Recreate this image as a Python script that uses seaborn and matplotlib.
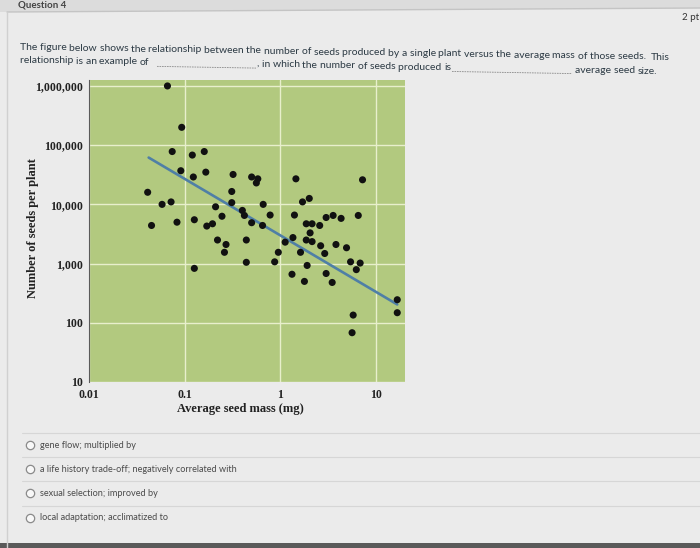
import numpy as np
import pandas as pd
import matplotlib
matplotlib.use("Agg")
import matplotlib.pyplot as plt
from matplotlib.ticker import FixedLocator, NullLocator
import seaborn as sns

# ---------------- data ----------------
seed_mass_mg = [0.066, 0.093, 0.074, 0.12, 0.16, 0.091, 0.123, 0.166, 0.32, 0.50,
                0.58, 0.56, 1.45, 7.2, 0.041, 0.058, 0.072, 0.31, 0.31, 0.21,
                0.40, 0.42, 0.66, 0.78, 1.7, 2.0, 1.4, 0.045, 0.083, 0.126,
                0.17, 0.195, 0.245, 0.50, 0.65, 1.86, 2.14, 2.57, 2.04, 3.0,
                3.55, 4.3, 6.5, 0.22, 0.44, 0.27, 1.12, 1.35, 1.86, 2.14,
                2.63, 3.8, 4.9, 0.44, 0.26, 0.87, 0.95, 1.62, 0.126, 1.32,
                1.9, 1.78, 3.0, 3.47, 2.9, 5.4, 6.8, 6.2, 16.6, 16.6,
                5.75, 5.6]
seeds_per_plant = [1000000, 200000, 78000, 68000, 78000, 37000, 29000, 35000, 32000, 29000,
                   27000, 23000, 27000, 26000, 16000, 10000, 11000, 16500, 10700, 9100,
                   7900, 6500, 10000, 6600, 11000, 12600, 6600, 4400, 5000, 5500,
                   4300, 4700, 6300, 4900, 4400, 4700, 4700, 4400, 3300, 6000,
                   6500, 5800, 6500, 2500, 2500, 2100, 2300, 2750, 2500, 2350,
                   2000, 2100, 1850, 1050, 1550, 1070, 1550, 1550, 830, 660,
                   930, 500, 680, 480, 1480, 1070, 1020, 790, 245, 148,
                   135, 68]
fit_mass_mg = [0.042, 16.6]
fit_seeds = [61700, 204]

x_ticks = [0.01, 0.1, 1, 10]
x_tick_labels = ["0.01", "0.1", "1", "10"]
y_ticks = [10, 100, 1000, 10000, 100000, 1000000]
y_tick_labels = ["10", "100", "1,000", "10,000", "100,000", "1,000,000"]

question_line1 = ("The figure below shows the relationship between the number of seeds produced "
                  "by a single plant versus the average mass of those seeds.  This")
question_line2 = ["relationship is an example of", ", in which the number of seeds produced is",
                  "average seed size."]
options = ["gene flow; multiplied by",
           "a life history trade-off; negatively correlated with",
           "sexual selection; improved by",
           "local adaptation; acclimatized to"]

# ---------------- figure ----------------
sns.set_style("white")
plt.rcParams['font.family'] = ['Lato', 'DejaVu Sans']

W, H = 700, 548
fig = plt.figure(figsize=(7.0, 5.48), dpi=100)
fig.patch.set_facecolor("#ebebeb")

# page overlay in pixel coordinates
pg = fig.add_axes([0, 0, 1, 1], zorder=0)
pg.set_xlim(0, W)
pg.set_ylim(H, 0)
pg.axis("off")
pg.patch.set_alpha(0)

pg.fill_between([0, W], [0, 0], [12, 8], color="#dcdcdc", lw=0)
pg.plot([7, W], [12, 8], color="#c4c4c4", lw=1)
pg.plot([7, 7], [12, H], color="#d0d0d0", lw=1)
pg.fill_between([0, W], [543, 543], [H, H], color="#5a5a5a", lw=0)
pg.text(18, 5, "Question 4", fontsize=7, fontweight="bold", color="#444444",
        va="center", ha="left")
pg.text(699, 17, "2 pt", fontsize=7, color="#333333", ha="right", va="center")

txt_col = "#2d3b45"
fs_q = 7.45
renderer = fig.canvas.get_renderer()
inv = pg.transData.inverted()


def tilted_words(text, x0, y_at):
    """Write text word by word, each word a little lower (photo tilt)."""
    x = x0
    words = text.split(" ")
    for i, w in enumerate(words):
        piece = w + (" " if i < len(words) - 1 else "")
        if piece == " ":
            piece = "\u00a0"
        t = pg.text(x, y_at(x) + 3.5, piece, fontsize=fs_q, color=txt_col,
                    ha="left", va="baseline")
        bb = t.get_window_extent(renderer=renderer)
        x = inv.transform((bb.x1, bb.y0))[0]
    return x


def line1_y(x):
    return 46.5 + (x - 20) * 10.0 / 650.0


def line2_y(x):
    return 59.5 + (x - 20) * 11.0 / 635.0


tilted_words(question_line1, 20, line1_y)
tilted_words(question_line2[0], 20, line2_y)
pg.plot([157, 256], [line2_y(157) + 4.5, line2_y(256) + 4.5], color="#8a8a8a", lw=0.6,
        ls=(0, (2, 1)))
tilted_words(question_line2[1], 257, line2_y)
pg.plot([452, 572], [line2_y(452) + 4.5, line2_y(572) + 4.5], color="#8a8a8a", lw=0.6,
        ls=(0, (2, 1)))
tilted_words(question_line2[2], 575, line2_y)

for yy in [433, 457, 481, 506]:
    pg.plot([22, W], [yy, yy], color="#d6d6d6", lw=0.8)
for yy, lab in zip([445, 469, 493, 518], options):
    pg.plot([30], [yy], marker="o", ms=6, mfc="#f8f8f8", mec="#8a8a8a", mew=0.9)
    pg.text(40, yy, lab, fontsize=6.6, color="#4a4a4a", ha="left", va="center")

# ---------------- chart ----------------
ax = fig.add_axes([89 / W, 1 - 382 / H, (405 - 89) / W, (382 - 80) / H], zorder=2)
ax.set_facecolor("#b2c97f")
ax.set_xscale("log")
ax.set_yscale("log")
ax.set_xlim(0.01, 20)
ax.set_ylim(10, 1.26e6)

df = pd.DataFrame({"mass": seed_mass_mg, "seeds": seeds_per_plant})
fit = pd.DataFrame({"mass": fit_mass_mg, "seeds": fit_seeds})
sns.lineplot(data=fit, x="mass", y="seeds", ax=ax, color="#4f7fa6", lw=1.9, zorder=3)
sns.scatterplot(data=df, x="mass", y="seeds", ax=ax, color="#111111", s=26,
                edgecolor="none", zorder=4)

ax.xaxis.set_major_locator(FixedLocator(x_ticks))
ax.yaxis.set_major_locator(FixedLocator(y_ticks))
ax.xaxis.set_minor_locator(NullLocator())
ax.yaxis.set_minor_locator(NullLocator())
ax.set_xticklabels(x_tick_labels)
ax.set_yticklabels(y_tick_labels)
ax.grid(True, which="major", color="#e8efcc", lw=1.0)
ax.set_axisbelow(True)

for s in ["top", "right", "bottom"]:
    ax.spines[s].set_visible(False)
ax.spines["left"].set_color("#5a5a5a")
ax.spines["left"].set_linewidth(0.8)

serif = ["Liberation Serif", "DejaVu Serif"]
ax.tick_params(axis="y", which="major", length=4, width=0.8, color="#444444",
               direction="inout", pad=2, labelsize=8.5, labelcolor="#222222")
ax.tick_params(axis="x", which="major", length=3, width=0.6, color="#666666",
               direction="out", pad=2, labelsize=8.5, labelcolor="#222222")
for lab in ax.get_xticklabels() + ax.get_yticklabels():
    lab.set_fontfamily(serif)
    lab.set_fontweight("bold")

ax.set_xlabel("Average seed mass (mg)", fontsize=9, fontweight="bold", family=serif,
              color="#222222")
ax.set_ylabel("Number of seeds per plant", fontsize=9, fontweight="bold", family=serif,
              color="#222222")
ax.xaxis.set_label_coords((240 - 89) / (405 - 89), -(403 - 382) / (382 - 80))
ax.yaxis.set_label_coords(-(89 - 39) / (405 - 89), (382 - 228) / (382 - 80))

fig.savefig("out.png", dpi=100, facecolor=fig.get_facecolor())
